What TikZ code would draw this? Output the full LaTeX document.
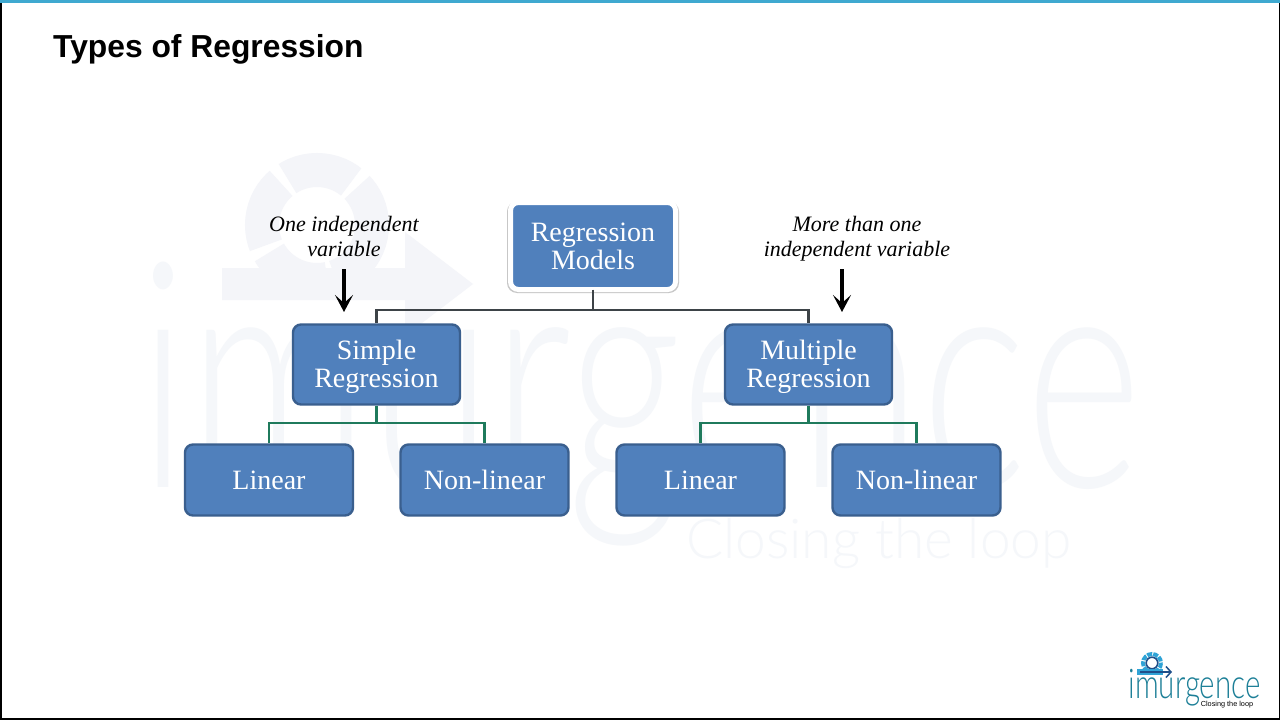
\documentclass[tikz,border=0pt]{standalone}
\usepackage{fontspec}
\setmainfont{Liberation Serif}
\newfontfamily\sansbold{Liberation Sans}
\newfontfamily\logofont{Lato Light}
\usetikzlibrary{arrows.meta}
\definecolor{boxfill}{HTML}{5080BC}
\definecolor{boxline}{HTML}{3A5F8E}
\definecolor{conndark}{HTML}{3D4347}
\definecolor{conngreen}{HTML}{1F7A5C}
\definecolor{wm}{HTML}{F4F5F9}
\definecolor{wmtext}{HTML}{F5F7FA}
\definecolor{logoteal}{HTML}{1C7F97}
\definecolor{logoblue}{HTML}{1E4F8A}
\definecolor{logolight}{HTML}{2FA3D6}
\definecolor{topbar}{HTML}{3FA9D0}
\newcommand{\lowerline}{\rule{0pt}{24.5pt}}
\tikzset{
  box/.style={draw=boxline,line width=2.4pt,fill=boxfill,rounded corners=8pt,text=white,
    align=center,inner sep=0pt,font=\fontsize{28}{28.5}\selectfont},
  topbox/.style={box,draw=white,line width=5pt,font=\fontsize{28}{28}\selectfont},
  glow/.style={fill=black!22,rounded corners=10pt},
  note/.style={align=center,font=\fontsize{22}{25}\selectfont\itshape,text=black,inner sep=0pt},
  linkdark/.style={draw=conndark,line width=2.4pt},
  linkgreen/.style={draw=conngreen,line width=2.4pt},
  cue/.style={draw=black,line width=3.6pt,-{Stealth[length=17pt,width=18pt,inset=8pt]}},
}
\begin{document}
\begin{tikzpicture}[x=1pt,y=-1pt]
\useasboundingbox (0,0) rectangle (1280,720);
\fill[white] (0,0) rectangle (1280,720);
% watermark
\draw[wm,line width=34pt,dash pattern=on 68pt off 8pt] (317,225) circle (55);
\fill[wm] (222,268) -- (405,268) -- (405,232) -- (473,284) -- (405,336) -- (405,300) -- (222,300) -- cycle;
\node[inner sep=0pt,anchor=base,text=wmtext,font=\logofont\fontsize{316}{316}\selectfont] (wmword) at (640,487) {\scalebox{.71}[1]{imurgence}};
\node[inner sep=0pt,anchor=base,text=wmtext,font=\logofont\fontsize{55}{55}\selectfont] (wmtag) at (879,558) {Closing the loop};
% frame
\fill[black] (0,0) rectangle (1.5,720);
\fill[black] (1278.5,0) rectangle (1280,720);
\fill[black] (0,718) rectangle (1280,720);
\fill[topbar] (0,0) rectangle (1280,3);
% title
\node[anchor=west,inner sep=0pt,font=\sansbold\bfseries\fontsize{31.8}{34}\selectfont] (title) at (53,49) {Types of Regression};
% boxes
\fill[glow] (507,201.5) rectangle (679,293);
\node[topbox,minimum width=165pt,minimum height=87pt] (root) at (593,246) {Regression\\Models};
\node[box,minimum width=167pt,minimum height=80pt] (simple) at (376.5,364.5) {\lowerline Simple\\Regression};
\node[box,minimum width=167pt,minimum height=80pt] (multi) at (808.5,364.5) {\lowerline Multiple\\Regression};
\node[box,minimum width=168pt,minimum height=71pt] (l1) at (269,480) {Linear};
\node[box,minimum width=168pt,minimum height=71pt] (n1) at (484.5,480) {Non-linear};
\node[box,minimum width=168pt,minimum height=71pt] (l2) at (700.5,480) {Linear};
\node[box,minimum width=168pt,minimum height=71pt] (n2) at (916.5,480) {Non-linear};
% notes
\node[note] (noteone) at (344,236) {One independent\\variable};
\node[note] (notetwo) at (857,239) {More than one\\independent variable};
% connectors
\coordinate (busa) at (593,310);
\coordinate (busb) at (376.5,423);
\coordinate (busc) at (808.5,423);
\draw[linkdark] ([yshift=2.5pt]root.south) -- (busa);
\draw[linkdark] (simple.north) |- (busa) -| (multi.north);
\draw[linkgreen] (simple.south) -- (busb);
\draw[linkgreen] (l1.north) |- (busb) -| (n1.north);
\draw[linkgreen] (multi.south) -- (busc);
\draw[linkgreen] (l2.north) |- (busc) -| (n2.north);
% arrows
\coordinate (cuetopa) at (344,269);
\coordinate (cuetopb) at (842,269);
\coordinate (cuea) at (344,312);
\coordinate (cueb) at (842,312);
\draw[cue] (cuetopa) -- (cuea);
\draw[cue] (cuetopb) -- (cueb);
% logo
\draw[logolight,line width=4pt,dash pattern=on 5pt off 1.2pt] (1152,663) circle (9);
\draw[logoblue,line width=1.6pt] (1152,663) circle (5.8);
\fill[logolight] (1137,669) -- (1163,669) -- (1163,675) -- (1137,675) -- cycle;
\draw[logoblue,line width=1.5pt,-{Straight Barb[length=5pt,width=11pt]}] (1140,672) -- (1172,672);
\node[inner sep=0pt,anchor=base,text=logoteal,font=\logofont\fontsize{41}{41}\selectfont] (logoword) at (1194.5,698) {\scalebox{.72}[1]{imurgence}};
\node[inner sep=0pt,text=black,font=\sansbold\fontsize{7.3}{8}\selectfont] (logotag) at (1227,705) {Closing the loop};
\end{tikzpicture}
\end{document}
